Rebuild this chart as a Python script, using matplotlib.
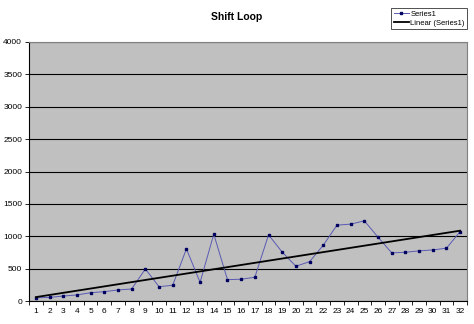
import numpy as np
import matplotlib.pyplot as plt

# data
runs = list(range(1, 33))
times = [50, 55, 77, 93, 128, 144, 170, 186, 495, 221, 243, 805, 289, 1032, 330, 336,
         367, 1022, 754, 537, 608, 862, 1172, 1187, 1238, 986, 743, 753, 774, 789, 815, 1073]
y_ticks = [0, 500, 1000, 1500, 2000, 2500, 3000, 3500, 4000]

plt.rcParams['font.family'] = ['Liberation Sans', 'DejaVu Sans']

fig = plt.figure(figsize=(4.74, 3.24), dpi=100)
ax = fig.add_axes([29 / 474, 1 - 301 / 324, 438 / 474, 259 / 324])
ax.set_facecolor('#c0c0c0')

# linear trendline (as excel does it)
k, b = np.polyfit(runs, times, 1)
trend = [k * x + b for x in runs]

ax.plot(runs, times, color='#5a5ab4', linewidth=0.7, marker='s', markersize=1.7,
        markerfacecolor='#000060', markeredgecolor='#000060', label='Series1', zorder=3)
ax.plot(runs, trend, color='black', linewidth=1.3, label='Linear (Series1)', zorder=4)

ax.set_xlim(0.5, 32.5)
ax.set_ylim(0, 4000)
ax.set_yticks(y_ticks)
ax.yaxis.grid(True, color='black', linewidth=0.8)
ax.set_axisbelow(True)

ax.set_xticks(runs)
ax.set_xticklabels([str(r) for r in runs])
ax.set_xticks(np.arange(0.5, 33, 1), minor=True)
ax.tick_params(axis='x', which='major', length=0, labelsize=6, pad=5)
ax.tick_params(axis='x', which='minor', length=3, width=0.6)
ax.tick_params(axis='y', length=3, width=0.6, labelsize=6, pad=2)

for side in ['top', 'right']:
    ax.spines[side].set_color('#808080')
    ax.spines[side].set_linewidth(0.8)
for side in ['left', 'bottom']:
    ax.spines[side].set_linewidth(0.8)

fig.text(237 / 474, 1 - 17 / 324, 'Shift Loop', ha='center', va='center',
         fontsize=7.5, fontweight='bold')

leg = fig.legend(loc='upper right', bbox_to_anchor=(467 / 474, 1 - 8 / 324),
                 fontsize=5.5, frameon=True, fancybox=False, handlelength=2.0,
                 borderpad=0.3, labelspacing=0.2, handletextpad=0.2, borderaxespad=0)
leg.get_frame().set_edgecolor('black')
leg.get_frame().set_linewidth(0.6)

fig.savefig('out.png', dpi=100)
